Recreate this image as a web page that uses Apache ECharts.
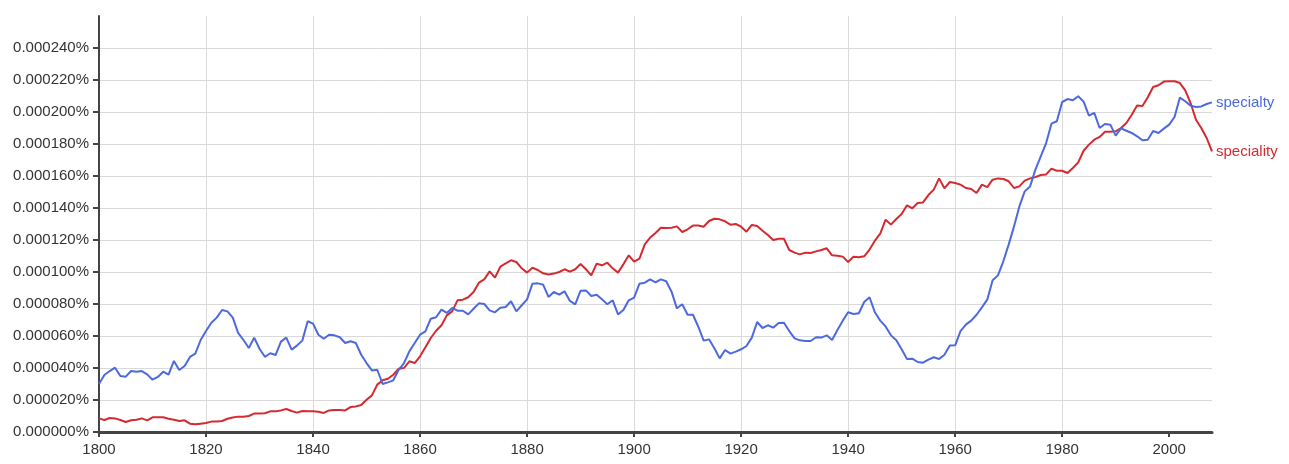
<!DOCTYPE html>
<html>
<head>
<meta charset="utf-8">
<script src="https://cdn.jsdelivr.net/npm/echarts@6/dist/echarts.min.js"></script>
<style>html,body{margin:0;padding:0;background:#fff}#c{width:1289px;height:464px}</style>
</head>
<body>
<div id="c"></div>
<script>
// Values are in millionths of a percent (240 => 0.000240%)
var startYear = 1800;
var endYear = 2008;
var xTicks = [1800, 1820, 1840, 1860, 1880, 1900, 1920, 1940, 1960, 1980, 2000];
var specialty = [
  30, 35.6, 38.1, 40.2, 35, 34.6, 38.1, 37.7, 38.1, 36,
  32.7, 34.4, 37.7, 35.8, 44.4, 38.75, 41.25, 46.9, 49, 57.5,
  63.1, 68.3, 71.5, 76.25, 75.4, 71.5, 62, 57.5, 52.5, 59,
  52, 47, 49.2, 48.1, 56.5, 59, 51.5, 54, 57.1, 69.2,
  67.7, 60.8, 58.3, 60.8, 60.4, 59.2, 55.6, 56.7, 55.6, 48.3,
  43.1, 38.5, 38.9, 30, 31, 32.3, 38.9, 43.1, 50.4, 55.6,
  60.8, 62.9, 70.8, 71.7, 76.5, 74.4, 77.5, 75.8, 75.8, 73.5,
  77, 80.4, 80, 76, 74.8, 77.7, 78.1, 81.7, 75.4, 79.2,
  82.9, 92.7, 92.9, 92.1, 84.4, 87.5, 85.8, 87.9, 81.9, 79.8,
  88.3, 88.5, 85, 85.8, 82.9, 79.8, 82.3, 73.5, 76.25, 82.3,
  84, 92.7, 93.3, 95.4, 93.5, 95.4, 94.2, 87.7, 77.3, 79.8,
  73.3, 73.3, 65.8, 57.1, 57.9, 52.3, 46, 51.25, 49, 50.2,
  51.7, 53.75, 59, 68.75, 65, 66.7, 65.2, 68.1, 68.3, 63.1,
  58.5, 57.3, 56.9, 56.9, 59.2, 59, 60.4, 57.5, 63.75, 69.6,
  74.8, 73.75, 74.2, 81.25, 84.2, 74.8, 69.6, 66, 60.4, 57.3,
  51.7, 45.6, 45.8, 43.75, 43.3, 45.2, 46.7, 45.6, 48.3, 54,
  54.2, 63.1, 67.1, 69.6, 73.3, 77.9, 82.7, 94.8, 97.9, 106.7,
  117.1, 128.5, 141, 150.4, 153.5, 164, 172.3, 180.6, 192.7, 194.2,
  206.25, 208.1, 207.3, 209.8, 206.5, 197.7, 199.4, 190, 192.5, 192.1,
  185.2, 189.8, 188.3, 186.9, 184.8, 182.3, 182.7, 188.1, 186.9, 189.6,
  192.1, 196.9, 209, 206.7, 204, 203.1, 203.5, 205, 206
];
var speciality = [
  8.5, 7.5, 8.75, 8.5, 7.5, 6.25, 7.3, 7.7, 8.5, 7.3,
  9.2, 9.2, 9.2, 8.3, 7.7, 6.9, 7.3, 5.2, 4.8, 5.2,
  5.6, 6.5, 6.5, 6.9, 8.3, 9, 9.6, 9.6, 10, 11.5,
  11.5, 11.7, 12.9, 12.9, 13.5, 14.4, 13.1, 12.1, 13.1, 12.9,
  12.9, 12.7, 11.9, 13.5, 13.75, 13.75, 13.5, 15.6, 16, 16.9,
  20.2, 22.9, 29.6, 32.3, 33.3, 35.8, 39.6, 40, 44.2, 43.1,
  47.3, 52.9, 58.75, 63.3, 66.7, 72.9, 75.4, 82.3, 82.7, 84.2,
  87.5, 93.3, 95.4, 100.4, 96.5, 103.3, 105.4, 107.3, 106.25, 102.3,
  99.6, 102.7, 101.25, 99.2, 98.5, 99, 100, 101.7, 100.2, 101.7,
  105, 101.7, 97.9, 105.2, 104.2, 105.8, 102.3, 99.6, 104.8, 110.4,
  106.5, 108.3, 117.3, 121.5, 124.4, 127.7, 127.5, 127.7, 128.5, 125,
  126.7, 129, 129, 128.3, 131.9, 133.3, 132.9, 131.7, 129.6, 130,
  128.3, 125.2, 129.4, 128.75, 125.8, 123.1, 120, 120.8, 120.8, 113.75,
  112.1, 111, 112.1, 111.9, 112.9, 113.75, 114.8, 110.4, 110.2, 109.6,
  106.25, 109.6, 109.2, 109.8, 114, 119.6, 124, 132.7, 129.6, 133.1,
  136.25, 141.7, 139.8, 143.1, 143.5, 148.1, 151.5, 158.5, 152.3, 156.25,
  155.6, 154.6, 152.5, 151.9, 149.4, 154.6, 153.1, 157.7, 158.5, 158.1,
  156.7, 152.5, 153.5, 157.1, 158.5, 159.3, 160.6, 161, 164.6, 163.3,
  163.3, 161.9, 165, 168.5, 175.8, 179.6, 182.7, 184.4, 187.7, 187.7,
  187.9, 190, 193.1, 198.3, 204, 203.75, 209.2, 215.6, 216.7, 219,
  219.2, 219.2, 218.1, 213.5, 205.6, 195.2, 190, 183.75, 175.4
];

function pairs(arr) {
  return arr.map(function (v, i) { return [startYear + i, v]; });
}
var FONT = '"Liberation Sans", Arial, Helvetica, sans-serif';
var chart = echarts.init(document.getElementById('c'), null, {renderer: 'canvas'});
chart.setOption({
  animation: false,
  backgroundColor: '#fff',
  grid: {left: 99, right: 77, top: 16, bottom: 32, containLabel: false},
  xAxis: {
    type: 'value', min: startYear, max: endYear, interval: 20,
    axisLine: {show: true, onZero: false, lineStyle: {color: '#444', width: 3}},
    axisTick: {show: true, length: 5, lineStyle: {color: '#444', width: 2}, customValues: xTicks},
    axisLabel: {color: '#333', fontSize: 15, fontFamily: FONT, margin: 10, customValues: xTicks,
      formatter: function (v) { return String(v); }},
    splitLine: {show: true, showMaxLine: false, lineStyle: {color: '#d9d9d9', width: 1}}
  },
  yAxis: {
    type: 'value', min: 0, max: 260, interval: 20,
    axisLine: {show: true, lineStyle: {color: '#444', width: 2}},
    axisTick: {show: true, length: 6, lineStyle: {color: '#444', width: 2}},
    axisLabel: {color: '#333', fontSize: 15, fontFamily: FONT, margin: 10, showMaxLabel: false,
      formatter: function (v) { return (v / 1e6).toFixed(6) + '%'; }},
    splitLine: {show: true, showMaxLine: false, lineStyle: {color: '#d9d9d9', width: 1}}
  },
  series: [
    {
      name: 'speciality', type: 'line', data: pairs(speciality), showSymbol: false,
      lineStyle: {color: '#d42a30', width: 2}, itemStyle: {color: '#d42a30'},
      endLabel: {show: true, formatter: '{a}', color: '#d42a30', fontSize: 15, fontFamily: FONT, distance: 4}
    },
    {
      name: 'specialty', type: 'line', data: pairs(specialty), showSymbol: false,
      lineStyle: {color: '#4d69de', width: 2}, itemStyle: {color: '#4d69de'},
      endLabel: {show: true, formatter: '{a}', color: '#4d69de', fontSize: 15, fontFamily: FONT, distance: 4}
    }
  ]
});
</script>
</body>
</html>
